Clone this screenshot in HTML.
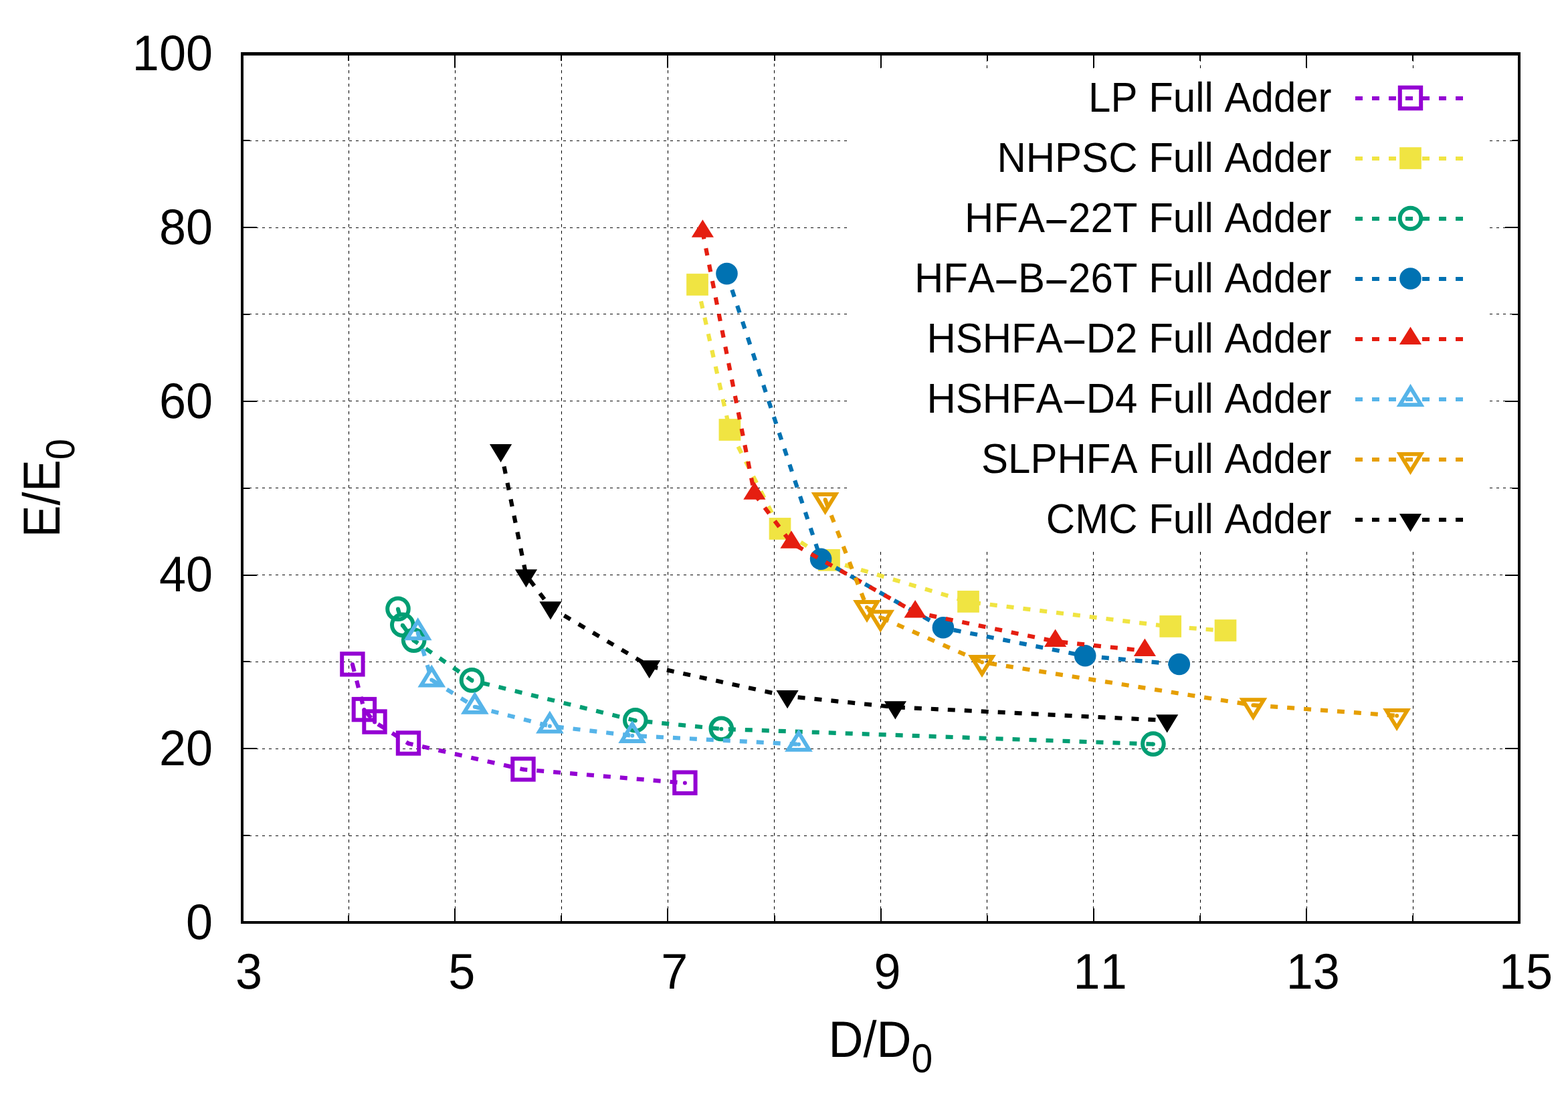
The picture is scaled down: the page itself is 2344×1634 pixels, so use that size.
<!DOCTYPE html>
<html lang="en"><head><meta charset="utf-8"><title>E/E0 vs D/D0 - Full Adder comparison</title>
<style>html,body{margin:0;padding:0;background:#fff;}body{width:2344px;height:1634px;}svg{display:block;}text{font-family:'Liberation Sans', sans-serif;fill:#000;font-kerning:none;font-variant-ligatures:none;text-rendering:geometricPrecision;}</style>
</head><body>
<svg width="2344" height="1634" viewBox="0 0 2344 1634">
<rect x="0" y="0" width="2344" height="1634" fill="#fff"/>
<g stroke="#000" stroke-width="1" stroke-dasharray="4.5 5.5" fill="none">
<path d="M521.5 1379.5V80"/>
<path d="M680.5 1379.5V80"/>
<path d="M839.5 1379.5V80"/>
<path d="M998.5 1379.5V80"/>
<path d="M1157.5 1379.5V80"/>
<path d="M1316.5 1379.5V825 M1316.5 102V80"/>
<path d="M1475.5 1379.5V825 M1475.5 102V80"/>
<path d="M1634.5 1379.5V825 M1634.5 102V80"/>
<path d="M1794.5 1379.5V825 M1794.5 102V80"/>
<path d="M1953.5 1379.5V825 M1953.5 102V80"/>
<path d="M2112.5 1379.5V825 M2112.5 102V80"/>
</g>
<g stroke="#000" stroke-width="1" stroke-dasharray="4 6" fill="none">
<path d="M362 1249.5H2271"/>
<path d="M362 1119.5H2271"/>
<path d="M362 989.5H2271"/>
<path d="M362 859.5H2271"/>
<path d="M362 729.5H1268 M2227 729.5H2271"/>
<path d="M362 599.5H1268 M2227 599.5H2271"/>
<path d="M362 469.5H1268 M2227 469.5H2271"/>
<path d="M362 340.5H1268 M2227 340.5H2271"/>
<path d="M362 210.5H1268 M2227 210.5H2271"/>
</g>
<g stroke="#000" stroke-width="2" fill="none">
<path d="M362 1379v-21 M362 80.5v21 M521 1379v-10.5 M521 80.5v10.5 M680 1379v-21 M680 80.5v21 M839 1379v-10.5 M839 80.5v10.5 M998 1379v-21 M998 80.5v21 M1158 1379v-10.5 M1158 80.5v10.5 M1317 1379v-21 M1317 80.5v21 M1476 1379v-10.5 M1476 80.5v10.5 M1635 1379v-21 M1635 80.5v21 M1794 1379v-10.5 M1794 80.5v10.5 M1953 1379v-21 M1953 80.5v21 M2112 1379v-10.5 M2112 80.5v10.5 M2271 1379v-21 M2271 80.5v21 M362 1379h22 M2271 1379h-21 M362 1249h11.5 M2271 1249h-10.5 M362 1119h22 M2271 1119h-21 M362 989h11.5 M2271 989h-10.5 M362 860h22 M2271 860h-21 M362 730h11.5 M2271 730h-10.5 M362 600h22 M2271 600h-21 M362 470h11.5 M2271 470h-10.5 M362 340h22 M2271 340h-21 M362 210h11.5 M2271 210h-10.5 M362 80h22 M2271 80h-21"/>
</g>
<g fill="#000">
<rect x="360" y="78" width="4" height="1303"/>
<rect x="2269" y="78" width="4" height="1303"/>
<rect x="360" y="78" width="1913" height="5"/>
<rect x="360" y="1377" width="1913" height="4"/>
</g>
<g>
<text transform="translate(318 1403.7) scale(1 1.04)" font-size="72" text-anchor="end">0</text>
<text transform="translate(318 1143.98) scale(1 1.04)" font-size="72" text-anchor="end">20</text>
<text transform="translate(318 884.26) scale(1 1.04)" font-size="72" text-anchor="end">40</text>
<text transform="translate(318 624.54) scale(1 1.04)" font-size="72" text-anchor="end">60</text>
<text transform="translate(318 364.82) scale(1 1.04)" font-size="72" text-anchor="end">80</text>
<text transform="translate(318 105.1) scale(1 1.04)" font-size="72" text-anchor="end">100</text>
<text transform="translate(372 1477.5) scale(1 1.04)" font-size="72" text-anchor="middle">3</text>
<text transform="translate(690.17 1477.5) scale(1 1.04)" font-size="72" text-anchor="middle">5</text>
<text transform="translate(1008.33 1477.5) scale(1 1.04)" font-size="72" text-anchor="middle">7</text>
<text transform="translate(1326.5 1477.5) scale(1 1.04)" font-size="72" text-anchor="middle">9</text>
<text transform="translate(1644.67 1477.5) scale(1 1.04)" font-size="72" text-anchor="middle">11</text>
<text transform="translate(1962.83 1477.5) scale(1 1.04)" font-size="72" text-anchor="middle">13</text>
<text transform="translate(2281 1477.5) scale(1 1.04)" font-size="72" text-anchor="middle">15</text>
</g>
<text transform="translate(1238.4 1579.8) scale(1 1.06)" font-size="72">D/D<tspan font-size="57" dy="22.25">0</tspan></text>
<text transform="translate(89 803.4) rotate(-90) scale(1 1.08)" font-size="72">E/E<tspan font-size="56" dy="20.46">0</tspan></text>
<g>
<polyline points="526.9,993.3 544.4,1061 560,1079.4 610.5,1111.4 782,1150.3 1023.9,1170.6" fill="none" stroke="#9400D3" stroke-width="6.2" stroke-dasharray="11 14" stroke-linejoin="miter"/>
<rect x="511.2" y="977.2" width="31.4" height="31.4" fill="none" stroke="#9400D3" stroke-width="6"/>
<circle cx="526.9" cy="993.3" r="3" fill="#9400D3"/>
<rect x="528.7" y="1044.9" width="31.4" height="31.4" fill="none" stroke="#9400D3" stroke-width="6"/>
<circle cx="544.4" cy="1061" r="3" fill="#9400D3"/>
<rect x="544.3" y="1063.3" width="31.4" height="31.4" fill="none" stroke="#9400D3" stroke-width="6"/>
<circle cx="560" cy="1079.4" r="3" fill="#9400D3"/>
<rect x="594.8" y="1095.3" width="31.4" height="31.4" fill="none" stroke="#9400D3" stroke-width="6"/>
<circle cx="610.5" cy="1111.4" r="3" fill="#9400D3"/>
<rect x="766.3" y="1134.2" width="31.4" height="31.4" fill="none" stroke="#9400D3" stroke-width="6"/>
<circle cx="782" cy="1150.3" r="3" fill="#9400D3"/>
<rect x="1008.2" y="1154.5" width="31.4" height="31.4" fill="none" stroke="#9400D3" stroke-width="6"/>
<circle cx="1023.9" cy="1170.6" r="3" fill="#9400D3"/>
</g>
<g>
<polyline points="1042.5,425.9 1090.9,642.9 1166,790.8 1239.5,837.7 1447.5,899.8 1749.7,936.8 1832,942.9" fill="none" stroke="#F0E442" stroke-width="6.2" stroke-dasharray="11 14" stroke-linejoin="miter"/>
<rect x="1026.15" y="409.15" width="32.7" height="32.7" fill="#F0E442"/>
<rect x="1074.55" y="626.15" width="32.7" height="32.7" fill="#F0E442"/>
<rect x="1149.65" y="774.05" width="32.7" height="32.7" fill="#F0E442"/>
<rect x="1223.15" y="820.95" width="32.7" height="32.7" fill="#F0E442"/>
<rect x="1431.15" y="883.05" width="32.7" height="32.7" fill="#F0E442"/>
<rect x="1733.35" y="920.05" width="32.7" height="32.7" fill="#F0E442"/>
<rect x="1815.65" y="926.15" width="32.7" height="32.7" fill="#F0E442"/>
</g>
<g>
<polyline points="595,910.6 601.8,934.7 618.7,957.5 705.5,1017.3 949.8,1077.2 1078.3,1089.8 1723.9,1112.5" fill="none" stroke="#009E73" stroke-width="6.2" stroke-dasharray="11 14" stroke-linejoin="miter"/>
<circle cx="595" cy="910.2" r="15.8" fill="none" stroke="#009E73" stroke-width="6"/>
<circle cx="595" cy="910.6" r="3" fill="#009E73"/>
<circle cx="601.8" cy="934.3" r="15.8" fill="none" stroke="#009E73" stroke-width="6"/>
<circle cx="601.8" cy="934.7" r="3" fill="#009E73"/>
<circle cx="618.7" cy="957.1" r="15.8" fill="none" stroke="#009E73" stroke-width="6"/>
<circle cx="618.7" cy="957.5" r="3" fill="#009E73"/>
<circle cx="705.5" cy="1016.9" r="15.8" fill="none" stroke="#009E73" stroke-width="6"/>
<circle cx="705.5" cy="1017.3" r="3" fill="#009E73"/>
<circle cx="949.8" cy="1076.8" r="15.8" fill="none" stroke="#009E73" stroke-width="6"/>
<circle cx="949.8" cy="1077.2" r="3" fill="#009E73"/>
<circle cx="1078.3" cy="1089.4" r="15.8" fill="none" stroke="#009E73" stroke-width="6"/>
<circle cx="1078.3" cy="1089.8" r="3" fill="#009E73"/>
<circle cx="1723.9" cy="1112.1" r="15.8" fill="none" stroke="#009E73" stroke-width="6"/>
<circle cx="1723.9" cy="1112.5" r="3" fill="#009E73"/>
</g>
<g>
<polyline points="1086.5,409.5 1227.1,836.2 1409.9,938.7 1622.2,980.7 1762.8,993.4" fill="none" stroke="#0072B2" stroke-width="6.2" stroke-dasharray="11 14" stroke-linejoin="miter"/>
<circle cx="1086.5" cy="409.1" r="16.3" fill="#0072B2"/>
<circle cx="1227.1" cy="835.8" r="16.3" fill="#0072B2"/>
<circle cx="1409.9" cy="938.3" r="16.3" fill="#0072B2"/>
<circle cx="1622.2" cy="980.3" r="16.3" fill="#0072B2"/>
<circle cx="1762.8" cy="993" r="16.3" fill="#0072B2"/>
</g>
<g>
<polyline points="1050.4,346.6 1127.9,738.7 1183,811.7 1368.1,915.5 1577.6,958.9 1711.4,972.9" fill="none" stroke="#E51E10" stroke-width="6.2" stroke-dasharray="11 14" stroke-linejoin="miter"/>
<polygon points="1050.4,328.2 1033.8,354.7 1067,354.7" fill="#E51E10"/>
<polygon points="1127.9,720.3 1111.3,746.8 1144.5,746.8" fill="#E51E10"/>
<polygon points="1183,793.3 1166.4,819.8 1199.6,819.8" fill="#E51E10"/>
<polygon points="1368.1,897.1 1351.5,923.6 1384.7,923.6" fill="#E51E10"/>
<polygon points="1577.6,940.5 1561,967 1594.2,967" fill="#E51E10"/>
<polygon points="1711.4,954.5 1694.8,981 1728,981" fill="#E51E10"/>
</g>
<g>
<polyline points="624.7,946.1 645.3,1016.5 709.8,1056.7 821.9,1085.5 945.2,1099.8 1194,1112.7" fill="none" stroke="#56B4E9" stroke-width="6.2" stroke-dasharray="11 14" stroke-linejoin="miter"/>
<polygon points="624.7,928.6 609,954.3 640.4,954.3" fill="none" stroke="#56B4E9" stroke-width="5.8" stroke-linejoin="miter" stroke-miterlimit="10"/>
<circle cx="624.7" cy="946.1" r="3" fill="#56B4E9"/>
<polygon points="645.3,999 629.6,1024.7 661,1024.7" fill="none" stroke="#56B4E9" stroke-width="5.8" stroke-linejoin="miter" stroke-miterlimit="10"/>
<circle cx="645.3" cy="1016.5" r="3" fill="#56B4E9"/>
<polygon points="709.8,1039.2 694.1,1064.9 725.5,1064.9" fill="none" stroke="#56B4E9" stroke-width="5.8" stroke-linejoin="miter" stroke-miterlimit="10"/>
<circle cx="709.8" cy="1056.7" r="3" fill="#56B4E9"/>
<polygon points="821.9,1068 806.2,1093.7 837.6,1093.7" fill="none" stroke="#56B4E9" stroke-width="5.8" stroke-linejoin="miter" stroke-miterlimit="10"/>
<circle cx="821.9" cy="1085.5" r="3" fill="#56B4E9"/>
<polygon points="945.2,1082.3 929.5,1108 960.9,1108" fill="none" stroke="#56B4E9" stroke-width="5.8" stroke-linejoin="miter" stroke-miterlimit="10"/>
<circle cx="945.2" cy="1099.8" r="3" fill="#56B4E9"/>
<polygon points="1194,1095.2 1178.3,1120.9 1209.7,1120.9" fill="none" stroke="#56B4E9" stroke-width="5.8" stroke-linejoin="miter" stroke-miterlimit="10"/>
<circle cx="1194" cy="1112.7" r="3" fill="#56B4E9"/>
</g>
<g>
<polyline points="1233.6,747 1296,908 1316.2,922.7 1468,989.9 1873.4,1054.2 2088.1,1069.9" fill="none" stroke="#E69F00" stroke-width="6.2" stroke-dasharray="11 14" stroke-linejoin="miter"/>
<polygon points="1233.6,764.5 1217.9,739 1249.3,739" fill="none" stroke="#E69F00" stroke-width="5.8" stroke-linejoin="miter" stroke-miterlimit="10"/>
<circle cx="1233.6" cy="747" r="3" fill="#E69F00"/>
<polygon points="1296,925.5 1280.3,900 1311.7,900" fill="none" stroke="#E69F00" stroke-width="5.8" stroke-linejoin="miter" stroke-miterlimit="10"/>
<circle cx="1296" cy="908" r="3" fill="#E69F00"/>
<polygon points="1316.2,940.2 1300.5,914.7 1331.9,914.7" fill="none" stroke="#E69F00" stroke-width="5.8" stroke-linejoin="miter" stroke-miterlimit="10"/>
<circle cx="1316.2" cy="922.7" r="3" fill="#E69F00"/>
<polygon points="1468,1007.4 1452.3,981.9 1483.7,981.9" fill="none" stroke="#E69F00" stroke-width="5.8" stroke-linejoin="miter" stroke-miterlimit="10"/>
<circle cx="1468" cy="989.9" r="3" fill="#E69F00"/>
<polygon points="1873.4,1071.7 1857.7,1046.2 1889.1,1046.2" fill="none" stroke="#E69F00" stroke-width="5.8" stroke-linejoin="miter" stroke-miterlimit="10"/>
<circle cx="1873.4" cy="1054.2" r="3" fill="#E69F00"/>
<polygon points="2088.1,1087.4 2072.4,1061.9 2103.8,1061.9" fill="none" stroke="#E69F00" stroke-width="5.8" stroke-linejoin="miter" stroke-miterlimit="10"/>
<circle cx="2088.1" cy="1069.9" r="3" fill="#E69F00"/>
</g>
<g>
<polyline points="748.6,672.85 786.5,859.95 823,908.15 970.7,995.95 1177.1,1040.85 1338.4,1057.15 1744.7,1077.05" fill="none" stroke="#000000" stroke-width="6.2" stroke-dasharray="11 14" stroke-linejoin="miter"/>
<polygon points="748.6,691.25 732,664.05 765.2,664.05" fill="#000000"/>
<polygon points="786.5,878.35 769.9,851.15 803.1,851.15" fill="#000000"/>
<polygon points="823,926.55 806.4,899.35 839.6,899.35" fill="#000000"/>
<polygon points="970.7,1014.35 954.1,987.15 987.3,987.15" fill="#000000"/>
<polygon points="1177.1,1059.25 1160.5,1032.05 1193.7,1032.05" fill="#000000"/>
<polygon points="1338.4,1075.55 1321.8,1048.35 1355,1048.35" fill="#000000"/>
<polygon points="1744.7,1095.45 1728.1,1068.25 1761.3,1068.25" fill="#000000"/>
</g>
<g>
<text transform="translate(1990.6 167) scale(1 1.04)" font-size="60" text-anchor="end">LP Full Adder</text>
<line x1="2026" y1="147" x2="2187" y2="147" stroke="#9400D3" stroke-width="6" stroke-dasharray="11 14"/>
<rect x="2092.8" y="130.8" width="31.4" height="31.4" fill="none" stroke="#9400D3" stroke-width="6"/>
<circle cx="2108.5" cy="146.9" r="3" fill="#9400D3"/>
</g>
<g>
<text transform="translate(1990.6 257) scale(1 1.04)" font-size="60" text-anchor="end">NHPSC Full Adder</text>
<line x1="2026" y1="237" x2="2187" y2="237" stroke="#F0E442" stroke-width="6" stroke-dasharray="11 14"/>
<rect x="2092.15" y="220.15" width="32.7" height="32.7" fill="#F0E442"/>
</g>
<g>
<text transform="translate(1990.6 347) scale(1 1.04)" font-size="60" text-anchor="end">HFA<tspan dx="-3.06" dy="0.8" textLength="40.8" lengthAdjust="spacingAndGlyphs">-</tspan><tspan dx="-2.7" dy="-0.8">22T Full Adder</tspan></text>
<line x1="2026" y1="327" x2="2187" y2="327" stroke="#009E73" stroke-width="6" stroke-dasharray="11 14"/>
<circle cx="2108.5" cy="326.5" r="15.8" fill="none" stroke="#009E73" stroke-width="6"/>
<circle cx="2108.5" cy="326.9" r="3" fill="#009E73"/>
</g>
<g>
<text transform="translate(1990.6 437) scale(1 1.04)" font-size="60" text-anchor="end">HFA<tspan dx="-3.06" dy="0.8" textLength="40.8" lengthAdjust="spacingAndGlyphs">-</tspan><tspan dx="-2.7" dy="-0.8">B</tspan><tspan dx="-3.06" dy="0.8" textLength="40.8" lengthAdjust="spacingAndGlyphs">-</tspan><tspan dx="-2.7" dy="-0.8">26T Full Adder</tspan></text>
<line x1="2026" y1="417" x2="2187" y2="417" stroke="#0072B2" stroke-width="6" stroke-dasharray="11 14"/>
<circle cx="2108.5" cy="416.5" r="16.3" fill="#0072B2"/>
</g>
<g>
<text transform="translate(1990.6 527) scale(1 1.04)" font-size="60" text-anchor="end">HSHFA<tspan dx="-3.06" dy="0.8" textLength="40.8" lengthAdjust="spacingAndGlyphs">-</tspan><tspan dx="-2.7" dy="-0.8">D2 Full Adder</tspan></text>
<line x1="2026" y1="507" x2="2187" y2="507" stroke="#E51E10" stroke-width="6" stroke-dasharray="11 14"/>
<polygon points="2108.5,488.5 2091.9,515 2125.1,515" fill="#E51E10"/>
</g>
<g>
<text transform="translate(1990.6 617) scale(1 1.04)" font-size="60" text-anchor="end">HSHFA<tspan dx="-3.06" dy="0.8" textLength="40.8" lengthAdjust="spacingAndGlyphs">-</tspan><tspan dx="-2.7" dy="-0.8">D4 Full Adder</tspan></text>
<line x1="2026" y1="597" x2="2187" y2="597" stroke="#56B4E9" stroke-width="6" stroke-dasharray="11 14"/>
<polygon points="2108.5,579.4 2092.8,605.1 2124.2,605.1" fill="none" stroke="#56B4E9" stroke-width="5.8" stroke-linejoin="miter" stroke-miterlimit="10"/>
<circle cx="2108.5" cy="596.9" r="3" fill="#56B4E9"/>
</g>
<g>
<text transform="translate(1990.6 707) scale(1 1.04)" font-size="60" text-anchor="end">SLPHFA Full Adder</text>
<line x1="2026" y1="687" x2="2187" y2="687" stroke="#E69F00" stroke-width="6" stroke-dasharray="11 14"/>
<polygon points="2108.5,704.4 2092.8,678.9 2124.2,678.9" fill="none" stroke="#E69F00" stroke-width="5.8" stroke-linejoin="miter" stroke-miterlimit="10"/>
<circle cx="2108.5" cy="686.9" r="3" fill="#E69F00"/>
</g>
<g>
<text transform="translate(1990.6 797) scale(1 1.04)" font-size="60" text-anchor="end">CMC Full Adder</text>
<line x1="2026" y1="777" x2="2187" y2="777" stroke="#000000" stroke-width="6" stroke-dasharray="11 14"/>
<polygon points="2108.5,795.3 2091.9,768.1 2125.1,768.1" fill="#000000"/>
</g>
</svg>
</body></html>
